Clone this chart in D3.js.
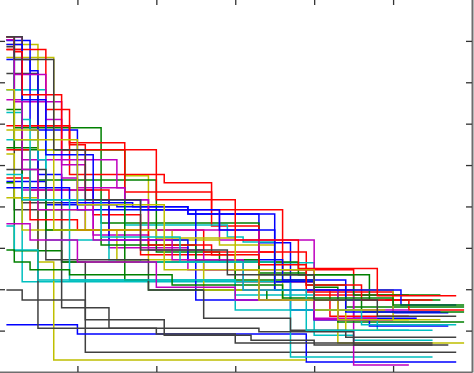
<!DOCTYPE html>
<html lang="en">
<head>
  <meta charset="UTF-8">
  <title>Stairs</title>
  <style>
    body { margin: 0; background: #fff; }
  </style>
</head>
<body>
  <script src="https://d3js.org/d3.v7.min.js"></script>
  <script>
    // Iteration where each run drops to a new level (last point = end of run)
    let runIters = [
      [1, 6, 15, 24, 33, 37, 45, 53],
      [1, 2, 13, 33, 39, 44, 59],
      [1, 9, 21, 27, 33, 39, 50, 52, 59],
      [1, 6, 16, 29, 31, 35, 40, 45, 55],
      [1, 3, 8, 11, 14, 24, 40, 52],
      [1, 7, 16, 19, 36, 43, 59],
      [1, 2, 8, 11, 58],

      [1, 10, 39, 58],
      [1, 5, 20, 28, 38, 47, 56],
      [1, 4, 12, 18, 30, 40, 52],
      [1, 3, 37, 55],
      [1, 3, 12, 19, 26, 33, 45, 52],
      [1, 5, 7, 39],
      [1, 5, 20, 30, 55],

      [1, 4, 5, 8, 17, 24, 35, 40, 50, 57],
      [1, 2, 8, 30, 40, 43, 59],
      [1, 3, 9, 11, 14, 26, 35, 42, 52],
      [1, 2, 5, 30, 40, 48, 55],
      [1, 3, 15, 16, 19, 28, 40, 48],
      [1, 2, 5, 11, 22, 28, 35, 50, 56],
      [1, 3, 8, 14, 33, 45, 57],

      [1, 4, 10, 25, 40, 47, 57],
      [1, 2, 16, 19, 34, 46, 59],
      [1, 6, 9, 16, 27, 36, 45, 51],
      [1, 5, 6, 14, 18, 35, 37, 49],
      [1, 2, 6, 8, 10, 16, 19, 33, 45, 52],
      [1, 3, 15, 26, 36, 44, 50],
      [1, 6, 19, 26, 37, 44, 58],

      [1, 9, 14, 24, 36, 44, 56],
      [1, 3, 6, 13, 25, 33, 45, 56],
      [1, 4, 10, 19, 27, 33, 39, 46, 55],
      [1, 2, 3, 4, 9, 30, 46, 58],
      [1, 2, 3, 5, 12, 22, 31, 43, 50],
      [1, 5, 7, 20, 30, 40, 49],
      [1, 3, 11, 21, 32, 40, 55],

      [1, 3, 6, 12, 18, 28, 35, 51, 58],
      [1, 2, 4, 9, 22, 36, 50, 59],
      [1, 2, 3, 8, 20, 30, 38, 48, 58],
      [1, 3, 13, 23, 31, 39, 52],
      [1, 4, 10, 20, 30, 40, 50],
      [1, 2, 10, 21, 33, 43, 52],
      [1, 2, 7, 11, 18, 29, 40, 48, 58]
    ];

    // Value of each run at those iterations
    let runValues = [
      [46.0, 40.4, 39.9, 38.2, 31.2, 15.0, 13.0, 13.0],
      [80.3, 59.0, 36.0, 23.9, 21.0, 15.7, 15.7],
      [59.5, 47.7, 45.7, 35.3, 29.0, 19.3, 17.4, 15.0, 15.0],
      [68.2, 41.6, 35.5, 32.6, 31.4, 26.4, 8.9, 7.7, 7.7],
      [81.0, 65.3, 50.1, 34.3, 30.0, 24.7, 17.4, 17.4],
      [76.0, 53.7, 47.4, 26.6, 17.4, 7.0, 7.0],
      [78.6, 39.2, 26.6, 4.8, 4.8],

      [11.4, 9.2, 2.4, 2.4],
      [54.2, 46.4, 29.0, 26.6, 23.5, 17.4, 17.4],
      [46.9, 44.0, 38.0, 28.3, 21.8, 18.6, 18.6],
      [62.7, 21.8, 3.6, 3.6],
      [65.8, 44.0, 33.1, 29.5, 24.7, 17.4, 1.7, 1.7],
      [79.1, 26.6, 2.9, 2.9],
      [72.1, 10.6, 9.2, 7.0, 7.0],

      [80.1, 72.8, 47.7, 40.9, 39.9, 38.2, 21.8, 17.4, 14.3, 14.3],
      [45.7, 29.3, 26.6, 22.2, 20.5, 12.1, 12.1],
      [77.9, 59.5, 54.9, 44.0, 34.3, 29.0, 19.8, 13.5, 13.5],
      [35.3, 29.5, 22.2, 18.6, 12.6, 10.1, 10.1],
      [81.0, 51.3, 44.5, 41.6, 39.2, 31.9, 13.0, 13.0],
      [52.7, 42.1, 39.2, 34.3, 31.9, 30.7, 19.8, 12.6, 12.6],
      [81.0, 40.9, 15.5, 10.6, 9.7, 6.5, 6.5],

      [75.5, 58.5, 39.2, 17.4, 12.6, 11.1, 11.1],
      [81.0, 53.7, 22.2, 19.8, 17.4, 14.5, 14.5],
      [77.9, 63.4, 55.4, 43.5, 39.2, 24.7, 17.4, 17.4],
      [56.1, 51.3, 31.9, 27.1, 26.6, 19.8, 17.4, 17.4],
      [81.0, 71.9, 61.0, 46.9, 44.5, 41.6, 34.3, 19.8, 15.0, 15.0],
      [42.1, 34.3, 27.1, 19.8, 17.4, 10.1, 10.1],
      [48.9, 27.1, 19.8, 13.0, 10.1, 8.4, 8.4],

      [44.5, 41.6, 31.9, 27.1, 22.2, 14.5, 14.5],
      [63.4, 41.6, 34.3, 30.7, 27.1, 23.5, 18.6, 18.6],
      [53.7, 36.8, 34.3, 30.7, 28.3, 25.9, 21.0, 17.4, 17.4],
      [81.0, 68.2, 61.0, 41.6, 22.2, 15.0, 11.4, 11.4],
      [80.3, 65.3, 48.9, 39.2, 31.9, 27.1, 19.8, 12.6, 12.6],
      [58.5, 53.7, 34.3, 32.4, 24.7, 15.0, 15.0],
      [19.8, 17.4, 12.6, 8.9, 7.7, 6.5, 6.5],

      [79.1, 65.8, 52.5, 41.6, 39.2, 34.3, 19.8, 16.2, 16.2],
      [29.5, 26.6, 24.7, 23.5, 21.0, 17.9, 16.2, 16.2],
      [81.0, 77.4, 67.0, 53.7, 41.6, 31.9, 25.0, 18.4, 18.4],
      [47.7, 41.6, 32.6, 26.6, 19.8, 10.1, 10.1],
      [35.8, 31.9, 26.6, 20.5, 17.4, 12.6, 12.6],
      [68.2, 56.1, 40.4, 24.7, 17.4, 12.6, 12.6],
      [81.0, 75.5, 53.7, 41.6, 29.5, 23.5, 17.4, 13.5, 13.5]
    ];

    let xTicks = [10, 20, 30, 40, 50];
    let yTicks = [10, 20, 30, 40, 50, 60, 70, 80];

    // old matlab line colour order: b g r c m y k
    let colorOrder = ["#0000ff", "#008000", "#ff0000", "#00bfbf", "#bf00bf", "#bfbf00", "#404040"];

    let svgWidth = 474;
    let svgHeight = 373;

    let svg = d3.select("body")
      .append("svg")
      .attr("width", svgWidth)
      .attr("height", svgHeight);

    // plot box is cropped: left and top edges sit just outside the picture
    let x = d3.scaleLinear().domain([0, 60]).range([-1.5, 472]);
    let y = d3.scaleLinear().domain([0, 90]).range([372, -0.5]);

    let line = d3.line()
      .x(d => x(d[0]))
      .y(d => y(d[1]))
      .curve(d3.curveStepAfter);

    let runs = runIters.map((its, i) => its.map((it, j) => [it, runValues[i][j]]));

    svg.append("g")
      .selectAll("path")
      .data(runs)
      .enter()
      .append("path")
      .attr("d", line)
      .attr("fill", "none")
      .attr("stroke", (d, i) => colorOrder[i % colorOrder.length])
      .attr("stroke-width", 1.5);

    // box axes with inward ticks and no labels
    function styleAxis(g) {
      g.selectAll(".domain").attr("stroke", "#6e6e6e").attr("stroke-width", 2);
      g.selectAll(".tick line").attr("stroke", "#333").attr("stroke-width", 1.3);
    }

    svg.append("g")
      .attr("transform", `translate(0, ${y(0)})`)
      .call(d3.axisBottom(x).tickValues(xTicks).tickSize(-6).tickSizeOuter(0).tickFormat(""))
      .call(styleAxis);

    svg.append("g")
      .attr("transform", "translate(0, -2)")
      .call(d3.axisTop(x).tickValues(xTicks).tickSize(-7).tickSizeOuter(0).tickFormat(""))
      .call(styleAxis);

    svg.append("g")
      .attr("transform", "translate(-2, 0)")
      .call(d3.axisLeft(y).tickValues(yTicks).tickSize(-7).tickSizeOuter(0).tickFormat(""))
      .call(styleAxis);

    svg.append("g")
      .attr("transform", `translate(${x(60)}, 0)`)
      .call(d3.axisRight(y).tickValues(yTicks).tickSize(-6).tickSizeOuter(0).tickFormat(""))
      .call(styleAxis);
  </script>
</body>
</html>
